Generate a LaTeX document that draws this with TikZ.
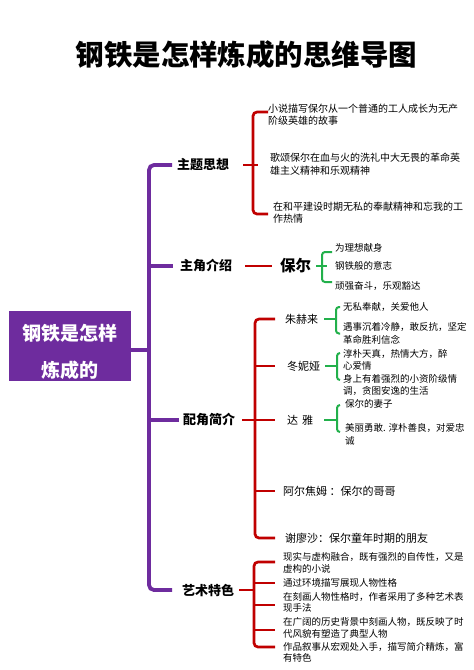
\documentclass[tikz,border=0pt]{standalone}
\usepackage{fontspec}
\setmainfont{Noto Sans CJK SC}
\definecolor{pur}{HTML}{6E2C9E}
\definecolor{rd}{HTML}{C00000}
\definecolor{gr}{HTML}{22B04B}
\begin{document}
\begin{tikzpicture}[x=1pt,y=-1pt,
 pl/.style={draw=pur,line width=3.8pt,rounded corners=5pt},
 rl/.style={draw=rd,line width=2.7pt,rounded corners=4pt},
 gl/.style={draw=gr,line width=2pt,rounded corners=3pt},
 itm/.style={anchor=west,inner sep=0pt,align=left,font=\fontsize{9.5}{12.5}\selectfont},
 itmb/.style={anchor=west,inner sep=0pt,align=left,font=\fontsize{10}{12.5}\selectfont},
 itma/.style={anchor=west,inner sep=0pt,align=left,font=\fontsize{9.5}{11.5}\selectfont},
 cat/.style={anchor=west,inner sep=0pt,font=\bfseries\fontsize{13}{16}\selectfont},
 who/.style={anchor=west,inner sep=0pt,font=\fontsize{11}{14}\selectfont},
]
\useasboundingbox[fill=white] (0,0) rectangle (474,670);

% title
\node[inner sep=0pt,font=\bfseries\fontsize{28.5}{32}\selectfont] (title) at (246.5,55) {钢铁是怎样炼成的思维导图};

% root
\node[fill=pur,minimum width=122pt,minimum height=70pt,inner sep=0pt] (main) at (70,346) {};
\node[inner sep=0pt,text=white,align=center,font=\bfseries\fontsize{19}{37}\selectfont] (maintxt) at (70,351.5) {钢铁是怎样\\炼成的};

% categories
\node[cat] (ztsx) at (177,165) {主题思想};
\node[cat] (zjjs) at (180,266) {主角介绍};
\node[cat] (pjjj) at (183,420) {配角简介};
\node[cat] (yste) at (182,590) {艺术特色};

% purple trunk
\coordinate (pJ) at (149,350);
\draw[pl] ([xshift=-5pt]ztsx.west) -| (pJ) |- ([xshift=-10pt]yste.west);
\draw[pl] (pJ |- zjjs.west) -- ([xshift=-7pt]zjjs.west);
\draw[pl] (pJ |- pjjj.west) -- ([xshift=-4pt]pjjj.west);
\draw[pl] (main.east |- pJ) -- (pJ);

% ---- 主题思想
\node[itmb] (t1) at (268,114.5) {小说描写保尔从一个普通的工人成长为无产\\阶级英雄的故事};
\node[itmb] (t2) at (270,164) {歌颂保尔在血与火的洗礼中大无畏的革命英\\雄主义精神和乐观精神};
\node[itmb] (t3) at (273,212.5) {在和平建设时期无私的奉献精神和忘我的工\\作热情};
\coordinate (zA) at (253,165);
\coordinate (t1s) at ([yshift=2.5pt]t1.west);
\coordinate (t3s) at ([shift={(-5pt,-1.5pt)}]t3.west);
\draw[rl] (t1s) -| (zA) |- (t3s);
\draw[rl] ([xshift=14pt]ztsx.east) -- ([xshift=5pt]zA);

% ---- 主角介绍
\node[anchor=west,inner sep=0pt,font=\bfseries\fontsize{15.5}{18}\selectfont] (baoer) at (280,266) {保尔};
\draw[rl] ([xshift=13pt]zjjs.east) -- ([xshift=-8pt]baoer.west);
\node[itm] (b1) at (335,248) {为理想献身};
\node[itm] (b2) at (335,266) {钢铁般的意志};
\node[itm] (b3) at (335,286) {顽强奋斗，乐观豁达};
\coordinate (gB) at (322,266);
\coordinate (b1s) at ([shift={(-3pt,-4pt)}]b1.west);
\coordinate (b3s) at ([shift={(-3pt,4pt)}]b3.west);
\draw[gl] (b1s) -| (gB) |- (b3s);
\draw[gl] ([xshift=5pt]baoer.east) -- ([xshift=5pt]gB);

% ---- 配角简介
\node[who] (zhl) at (285,319) {朱赫来};
\node[who] (dny) at (287,366) {冬妮娅};
\node[who] (dy) at (287,420) {达\hspace{4pt}雅};
\node[who] (aej) at (283,491) {阿尔焦姆 ：保尔的哥哥};
\node[who] (xls) at (285,538) {谢廖沙：保尔童年时期的朋友};
\coordinate (pA) at (255,420);
\draw[rl] ([xshift=-10pt]zhl.west) -| (pA) |- ([xshift=-10pt]xls.west);
\draw[rl] (pA |- dny.west) -- ([xshift=-12pt]dny.west);
\draw[rl] (pA |- aej.west) -- ([xshift=-8pt]aej.west);
\draw[rl] ([xshift=7pt]pjjj.east) -- ([xshift=-12pt]dy.west);

% 朱赫来
\node[itm] (z1) at (343,307) {无私奉献，关爱他人};
\node[itm] (z2) at (343,333.5) {遇事沉着冷静，敢反抗，坚定\\革命胜利信念};
\coordinate (gZ) at (336,319);
\draw[gl] ([xshift=-3pt]z1.west) -| (gZ) |- ([xshift=-3pt]z2.west);
\draw[gl] ([xshift=6pt]zhl.east) -- (gZ);

% 冬妮娅
\node[itm] (d1) at (343,360) {淳朴天真，热情大方，醉\\心爱情};
\node[itm] (d2) at (343,385) {身上有着强烈的小资阶级情\\调，贪图安逸的生活};
\coordinate (gD) at (337,366);
\coordinate (d1s) at ([shift={(-3pt,7pt)}]d1.west);
\coordinate (d2s) at ([shift={(-3pt,5pt)}]d2.west);
\draw[gl] (d1s) -| (gD) |- (d2s);
\draw[gl] ([xshift=5pt]dny.east) -- (gD);

% 达雅
\node[itm] (y1) at (345,404) {保尔的妻子};
\node[itm] (y2) at (345,434.5) {美丽勇敢. 淳朴善良，对爱忠\\诚};
\coordinate (gY) at (337,420);
\coordinate (y1s) at ([shift={(-5pt,-1pt)}]y1.west);
\coordinate (y2s) at ([shift={(-5pt,2.5pt)}]y2.west);
\draw[gl] (y1s) -| (gY) |- (y2s);
\draw[gl] ([xshift=11pt]dy.east) -- (gY);

% ---- 艺术特色
\node[itma] (a1) at (283,563) {现实与虚构融合，既有强烈的自传性，又是\\虚构的小说};
\node[itma] (a2) at (283,583) {通过环境描写展现人物性格};
\node[itma] (a3) at (283,602.5) {在刻画人物性格时，作者采用了多种艺术表\\现手法};
\node[itma] (a4) at (283,628) {在广阔的历史背景中刻画人物，既反映了时\\代风貌有塑造了典型人物};
\node[itma] (a5) at (283,652.5) {作品叙事从宏观处入手，描写简介精炼，富\\有特色};
\coordinate (aA) at (254,590);
\coordinate (a1s) at ([shift={(-8pt,1pt)}]a1.west);
\coordinate (a2s) at ([xshift=-8pt]a2.west);
\coordinate (a3s) at ([shift={(-8pt,-2.5pt)}]a3.west);
\coordinate (a4s) at ([shift={(-8pt,-2pt)}]a4.west);
\coordinate (a5s) at ([shift={(-8pt,5.5pt)}]a5.west);
\draw[rl] (a1s) -| (aA) |- (a5s);
\draw[rl] (aA |- a2s) -- (a2s);
\draw[rl] (aA |- a3s) -- (a3s);
\draw[rl] (aA |- a4s) -- (a4s);
\draw[rl] ([xshift=5pt]yste.east) -- (aA);
\end{tikzpicture}
\end{document}
